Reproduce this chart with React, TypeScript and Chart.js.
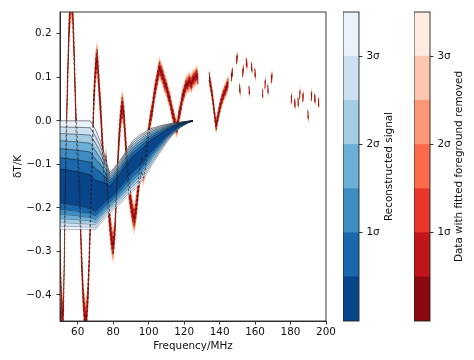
import React, { useEffect, useRef } from "react";
import { Chart, registerables } from "chart.js";

Chart.register(...registerables);

const FONT = "'DejaVu Sans', sans-serif";
const FONT_SIZE = 10.4;
const TEXT_COLOR = "#111";

// ---- axes ----
const xTickValues = [60, 80, 100, 120, 140, 160, 180, 200];
const yTickValues = [-0.4, -0.3, -0.2, -0.1, 0, 0.1, 0.2];

// ---- data with fitted foreground removed (continuous part) ----
const dataFreq = [
  50, 51, 52, 53, 54, 55, 56, 57, 58, 59,
  60, 61, 62, 63, 64, 65, 66, 67, 68, 69,
  70, 71, 72, 73, 74, 75, 76, 77, 78, 79,
  80, 81, 82, 83, 84, 85, 86, 87, 88, 89,
  90, 91, 92, 93, 94, 95, 96, 97, 98, 99,
  100, 101, 102, 103, 104, 105, 106, 107, 108, 109,
  110, 111, 112, 113, 114, 115, 116, 117, 118, 119,
  120, 121, 122, 123, 124, 125, 126, 127, 128,
  131,
  134, 135, 136, 137, 138, 139, 140, 141, 142, 143, 144, 145,
];
const dataValue: (number | null)[] = [
  -0.3, -0.45, -0.43, -0.15, 0.05, 0.2, 0.28, 0.27, 0.15, 0.0,
  -0.08, -0.16, -0.3, -0.4, -0.455, -0.45, -0.38, -0.25, -0.1, 0.04,
  0.12, 0.145, 0.08, 0.02, -0.06, -0.12, -0.1, -0.18, -0.23, -0.27,
  -0.29, -0.25, -0.15, -0.06, 0.0, 0.035, 0.015, -0.05, -0.11, -0.16,
  -0.19, -0.215, -0.225, -0.2, -0.16, -0.12, -0.1, -0.115, -0.1, -0.06,
  -0.025, 0.005, 0.025, 0.055, 0.08, 0.1, 0.122, 0.112, 0.102, 0.086,
  0.078, 0.06, 0.048, 0.025, 0.01, -0.008, -0.018, 0.012, 0.028, 0.054,
  0.066, 0.082, 0.084, 0.092, 0.084, 0.096, 0.098, 0.106, 0.096,
  null,
  0.102, 0.08, 0.055, 0.02, -0.012, 0.008, 0.028, 0.045, 0.058, 0.068, 0.078, 0.088,
];
const dataSigma: (number | null)[] = [
  0.016, 0.016, 0.016, 0.016, 0.016, 0.016, 0.016, 0.016, 0.016, 0.016,
  0.015, 0.015, 0.015, 0.015, 0.015, 0.015, 0.015, 0.015, 0.015, 0.015,
  0.013, 0.013, 0.013, 0.013, 0.013, 0.013, 0.013, 0.013, 0.013, 0.013,
  0.012, 0.012, 0.012, 0.012, 0.012, 0.012, 0.012, 0.012, 0.012, 0.012,
  0.011, 0.011, 0.011, 0.011, 0.011, 0.011, 0.011, 0.011, 0.011, 0.011,
  0.008, 0.008, 0.008, 0.008, 0.008, 0.008, 0.008, 0.008, 0.008, 0.008,
  0.007, 0.007, 0.007, 0.007, 0.007, 0.007, 0.007, 0.007, 0.007, 0.007,
  0.007, 0.007, 0.007, 0.007, 0.007, 0.007, 0.007, 0.007, 0.007,
  null,
  0.006, 0.006, 0.006, 0.006, 0.006, 0.006, 0.006, 0.006, 0.006, 0.006, 0.006, 0.006,
];

// ---- data: isolated short segments at high frequency ----
const dashFreqStart = [146.4, 149.4, 151.1, 152.8, 154.8, 156.4, 157.8, 159.7, 164.1, 165.4, 167.0, 168.9, 180.2, 182.1, 184.0, 185.0, 186.7, 189.6, 191.5, 193.4, 195.6];
const dashFreqEnd = [147.4, 150.2, 151.8, 153.6, 155.7, 157.0, 158.5, 160.4, 164.6, 166.0, 167.6, 169.8, 180.9, 182.8, 184.6, 185.6, 187.4, 190.2, 192.2, 194.1, 196.2];
const dashValueStart = [0.098, 0.138, 0.077, 0.108, 0.136, 0.073, 0.126, 0.113, 0.066, 0.081, 0.076, 0.094, 0.047, 0.043, 0.046, 0.057, 0.051, 0.017, 0.053, 0.054, 0.045];
const dashValueEnd = [0.114, 0.148, 0.066, 0.12, 0.127, 0.065, 0.117, 0.103, 0.057, 0.091, 0.067, 0.104, 0.055, 0.036, 0.039, 0.067, 0.059, 0.007, 0.063, 0.047, 0.037];
const dashSigma = 0.0045;

// ---- reconstructed signal ----
const signalFreq = [50, 60, 67, 70, 73, 76, 78, 80, 84, 88, 91, 95, 99, 102, 106, 110, 114, 118, 122, 125];
const signalUpper = [0, 0, 0, -0.02, -0.05, -0.09, -0.12, -0.11, -0.09, -0.065, -0.046, -0.033, -0.023, -0.017, -0.012, -0.008, -0.005, -0.003, -0.001, 0];
const signalLower = [-0.25, -0.25, -0.25, -0.25, -0.235, -0.222, -0.212, -0.205, -0.19, -0.175, -0.162, -0.145, -0.12, -0.1, -0.075, -0.05, -0.03, -0.015, -0.005, 0];
const signalMid = [-0.16, -0.17, -0.18, -0.19, -0.18, -0.168, -0.163, -0.155, -0.135, -0.112, -0.098, -0.084, -0.066, -0.054, -0.041, -0.028, -0.018, -0.009, -0.003, 0];

// ---- sigma levels and colours (outermost first) ----
const sigmaLevels = [3.5, 3, 2.5, 2, 1.5, 1, 0.5];
const blueColors = ["#e9f2fb", "#cde0f1", "#a4cce3", "#6baed6", "#3d8dc3", "#1a67ac", "#08458a"];
const redColors = ["#feeae0", "#fcc6b0", "#fc9878", "#fb6a4a", "#ea362a", "#c0151b", "#8b0911"];

const colorbarTickValues = [2, 4, 6];
const colorbarTickLabels = ["1σ", "2σ", "3σ"];

// ---------------------------------------------------------------
type P = { x: number; y: number | null };

function buildRedSeries() {
  const xs: number[] = [];
  const ys: (number | null)[] = [];
  const ss: (number | null)[] = [];
  dataFreq.forEach((f, i) => {
    xs.push(f);
    ys.push(dataValue[i]);
    ss.push(dataSigma[i]);
  });
  xs.push(145.9);
  ys.push(null);
  ss.push(null);
  dashFreqStart.forEach((f, i) => {
    xs.push(f, dashFreqEnd[i], dashFreqEnd[i] + 0.2);
    ys.push(dashValueStart[i], dashValueEnd[i], null);
    ss.push(dashSigma, dashSigma, null);
  });
  return { xs, ys, ss };
}

const frame = {
  id: "frame",
  afterDraw(chart: any) {
    const { ctx, chartArea: a } = chart;
    ctx.save();
    ctx.strokeStyle = "#222";
    ctx.lineWidth = 0.9;
    ctx.strokeRect(a.left, a.top, a.right - a.left, a.bottom - a.top);
    const lbl = chart.options.plugins.sideLabel;
    if (lbl && lbl.text) {
      ctx.translate(lbl.x, lbl.y);
      ctx.rotate(-Math.PI / 2);
      ctx.fillStyle = TEXT_COLOR;
      ctx.font = `${FONT_SIZE}px ${FONT}`;
      ctx.textAlign = "center";
      ctx.textBaseline = "middle";
      ctx.fillText(lbl.text, 0, 0);
    }
    ctx.restore();
  },
};

function MainChart() {
  const ref = useRef<HTMLCanvasElement>(null);
  useEffect(() => {
    if (!ref.current) return;
    const { xs, ys, ss } = buildRedSeries();
    const datasets: any[] = [];
    const lineBase = { type: "line", pointRadius: 0, tension: 0, spanGaps: false };

    sigmaLevels.forEach((k, i) => {
      const up: P[] = xs.map((x, j) => ({ x, y: ys[j] === null ? null : (ys[j] as number) + k * (ss[j] as number) }));
      const lo: P[] = xs.map((x, j) => ({ x, y: ys[j] === null ? null : (ys[j] as number) - k * (ss[j] as number) }));
      datasets.push({ ...lineBase, data: up, fill: "+1", backgroundColor: redColors[i], borderWidth: 0, order: 100 - i });
      datasets.push({ ...lineBase, data: lo, fill: false, borderWidth: 0, order: 100 - i });
    });

    sigmaLevels.forEach((k, i) => {
      const frac = Math.pow(k / 3.5, 0.6);
      const up: P[] = signalFreq.map((x, j) => ({ x, y: signalMid[j] + frac * (signalUpper[j] - signalMid[j]) }));
      const lo: P[] = signalFreq.map((x, j) => ({ x, y: signalMid[j] + frac * (signalLower[j] - signalMid[j]) }));
      datasets.push({ ...lineBase, data: up, fill: "+1", backgroundColor: blueColors[i], borderColor: "rgba(10,10,20,0.8)", borderWidth: 0.6, order: 50 - i });
      datasets.push({ ...lineBase, data: lo, fill: false, borderColor: "rgba(10,10,20,0.8)", borderWidth: 0.6, order: 50 - i });
    });

    // dark dashed outlines of the data
    [1.5, -1.5].forEach((edge) => {
      datasets.push({
        ...lineBase,
        data: xs.map((x, j) => ({ x, y: ys[j] === null ? null : (ys[j] as number) + edge * (ss[j] as number) })),
        fill: false, borderColor: "rgba(40,20,20,0.85)", borderWidth: 0.7, borderDash: [2.5, 2], order: 2,
      });
    });

    const font = { family: FONT, size: FONT_SIZE };
    const chart = new Chart(ref.current, {
      type: "line",
      data: { datasets },
      plugins: [frame],
      options: {
        animation: false,
        responsive: false,
        events: [],
        layout: { padding: { top: 12, right: 19, left: 0, bottom: 0 } },
        plugins: { legend: { display: false }, tooltip: { enabled: false } },
        scales: {
          x: {
            type: "linear",
            min: 50,
            max: 200,
            afterBuildTicks: (s: any) => { s.ticks = xTickValues.map((v) => ({ value: v })); },
            afterFit: (s: any) => { s.height = 39; },
            ticks: { font, color: TEXT_COLOR, padding: 2, maxRotation: 0, autoSkip: false, callback: (v: any) => String(v) },
            grid: { drawOnChartArea: false, tickLength: 3.5, color: "#222", lineWidth: 0.9 },
            border: { display: true, color: "#222", width: 0.9 },
            title: { display: true, text: "Frequency/MHz", font, color: TEXT_COLOR, padding: { top: 0, bottom: 7 } },
          },
          y: {
            type: "linear",
            min: -0.46,
            max: 0.25,
            afterBuildTicks: (s: any) => { s.ticks = yTickValues.map((v) => ({ value: v })); },
            afterFit: (s: any) => { s.width = 60; },
            ticks: { font, color: TEXT_COLOR, padding: 5, autoSkip: false, callback: (v: any) => Number(v).toFixed(1).replace("-", "\u2212") },
            grid: { drawOnChartArea: false, tickLength: 3.5, color: "#222", lineWidth: 0.9 },
            border: { display: true, color: "#222", width: 0.9 },
            title: { display: true, text: "δT/K", font, color: TEXT_COLOR, padding: { top: 12, bottom: 0 } },
          },
        },
      } as any,
    });
    return () => chart.destroy();
  }, []);
  return <canvas ref={ref} width={345} height={360} style={{ position: "absolute", left: 0, top: 0 }} />;
}

function Colorbar({ left, colors, label, labelX }: { left: number; colors: string[]; label: string; labelX: number }) {
  const ref = useRef<HTMLCanvasElement>(null);
  useEffect(() => {
    if (!ref.current) return;
    const bottomUp = [...colors].reverse();
    const font = { family: FONT, size: FONT_SIZE };
    const chart = new Chart(ref.current, {
      type: "bar",
      data: {
        labels: [""],
        datasets: bottomUp.map((c) => ({ data: [0.5], backgroundColor: c, borderWidth: 0, barPercentage: 1, categoryPercentage: 1 })),
      },
      plugins: [frame],
      options: {
        animation: false,
        responsive: false,
        events: [],
        layout: { padding: { top: 12, bottom: 39, left: 0, right: 0 } },
        plugins: { legend: { display: false }, tooltip: { enabled: false }, sideLabel: { text: label, x: labelX, y: 166.5 } },
        scales: {
          x: { display: false, stacked: true },
          y: {
            stacked: true,
            position: "right",
            min: 0,
            max: 3.5,
            afterBuildTicks: (s: any) => { s.ticks = colorbarTickValues.map((v) => ({ value: v / 2 })); },
            afterFit: (s: any) => { s.width = 44; },
            ticks: {
              font, color: TEXT_COLOR, padding: 4, autoSkip: false,
              callback: (v: any) => colorbarTickLabels[colorbarTickValues.indexOf(Math.round(Number(v) * 2))],
            },
            grid: { drawOnChartArea: false, tickLength: 3.5, color: "#222", lineWidth: 0.9 },
            border: { display: false },
          },
        },
      } as any,
    });
    return () => chart.destroy();
  }, []);
  return <canvas ref={ref} width={60} height={360} style={{ position: "absolute", left, top: 0 }} />;
}

export default function App() {
  return (
    <div style={{ position: "absolute", left: 0, top: 0, width: 474, height: 360, background: "#fff", overflow: "hidden" }}>
      <MainChart />
      <Colorbar left={343} colors={blueColors} label="Reconstructed signal" labelX={46} />
      <Colorbar left={414} colors={redColors} label="Data with fitted foreground removed" labelX={45} />
    </div>
  );
}
